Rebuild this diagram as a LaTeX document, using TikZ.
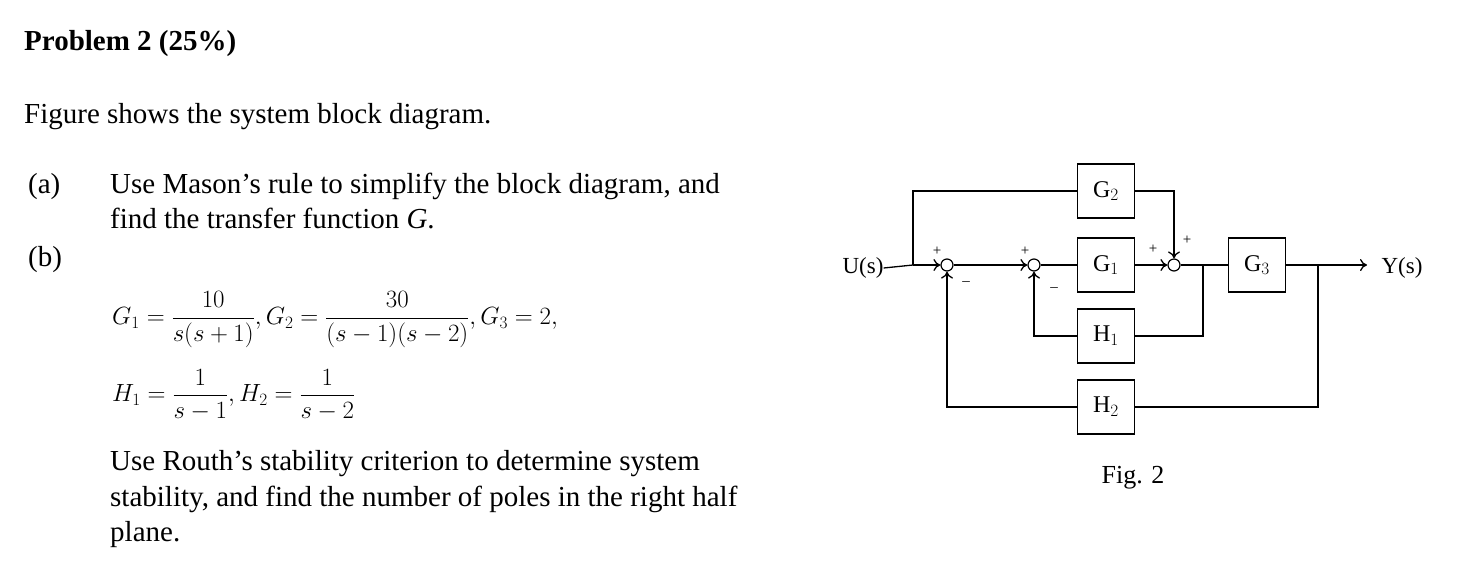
\documentclass[tikz,border=0pt]{standalone}
\usepackage{amsmath}
\usepackage{fontspec}
\setmainfont{Liberation Serif}
\usetikzlibrary{arrows.meta}
\begin{document}
\begin{tikzpicture}[x=1pt,y=-1pt,
  blk/.style={draw,line width=1.3pt,minimum width=57pt,minimum height=54pt,inner sep=0pt,font=\fontsize{24}{26}\selectfont},
  sumj/.style={circle,draw,line width=1.2pt,minimum size=12pt,inner sep=0pt},
  ln/.style={line width=1.3pt},
  ar/.style={line width=1.3pt,-{To[length=7pt,width=12pt]}},
  sg/.style={font=\fontsize{15}{16}\selectfont,inner sep=0pt},
  txt/.style={anchor=base west,inner sep=0pt,font=\fontsize{29}{34}\selectfont}]
\useasboundingbox (0,0) rectangle (1460,582);
% text
\node[txt] (t1) at (24,50) {\bfseries Problem 2 (25\%)};
\node[txt] (t2) at (24,123) {Figure shows the system block diagram.};
\node[txt] (a) at (28,193) {(a)};
\node[txt] (a1) at (110,193) {Use Mason’s rule to simplify the block diagram, and};
\node[txt] (a2) at (110,228) {find the transfer function \textit{G}.};
\node[txt] (b) at (28,266) {(b)};
\node[anchor=west,inner sep=0pt,font=\fontsize{26}{30}\selectfont] (eq1) at (112,320) {$G_1=\dfrac{10}{s(s+1)},G_2=\dfrac{30}{(s-1)(s-2)},G_3=2,$};
\node[anchor=west,inner sep=0pt,font=\fontsize{26}{30}\selectfont] (eq2) at (112,395) {$H_1=\dfrac{1}{s-1},H_2=\dfrac{1}{s-2}$};
\node[txt] (c1) at (110,470) {Use Routh’s stability criterion to determine system};
\node[txt] (c2) at (110,506) {stability, and find the number of poles in the right half};
\node[txt] (c3) at (110,541) {plane.};
% diagram
\node[inner sep=0pt,font=\fontsize{23}{26}\selectfont] (U) at (863,268) {U(s)};
\node[inner sep=0pt,font=\fontsize{23}{26}\selectfont] (Y) at (1402,268) {Y(s)};
\node[sumj] (s1) at (947,265) {};
\node[sumj] (s2) at (1034,265) {};
\node[sumj] (s3) at (1174,265) {};
\node[blk] (G2) at (1106,191) {G$_2$};
\node[blk] (G1) at (1106,265) {G$_1$};
\node[blk] (G3) at (1257,265) {G$_3$};
\node[blk] (H1) at (1106,336) {H$_1$};
\node[blk] (H2) at (1106,407) {H$_2$};
\node[inner sep=0pt,font=\fontsize{26}{30}\selectfont] (fig) at (1133,478) {Fig. 2};
\coordinate (br) at (913,265);
\coordinate (t1p) at (1203,265);
\coordinate (t2p) at (1318,265);
\coordinate (yend) at (1367,265);
\draw[ln] (U.east) -- (br);
\draw[ar] (br) -- (s1.west);
\draw[ln] (br) |- (G2.west);
\draw[ar] (G2.east) -| (s3.north);
\draw[ar] (s1.east) -- (s2.west);
\draw[ln] (s2.east) -- (G1.west);
\draw[ar] (G1.east) -- (s3.west);
\draw[ln] (s3.east) -- (G3.west);
\draw[ar] (G3.east) -- (yend);
\draw[ln] (t1p) |- (H1.east);
\draw[ar] (H1.west) -| (s2.south);
\draw[ln] (t2p) |- (H2.east);
\draw[ar] (H2.west) -| (s1.south);
\node[sg] (p1) at (937,251) {+};
\node[sg] (m1) at (966,284) {\textendash};
\node[sg] (p2) at (1025,251) {+};
\node[sg] (m2) at (1054,290) {\textendash};
\node[sg] (p3) at (1153,249) {+};
\node[sg] (p4) at (1187,240) {+};
\end{tikzpicture}
\end{document}
